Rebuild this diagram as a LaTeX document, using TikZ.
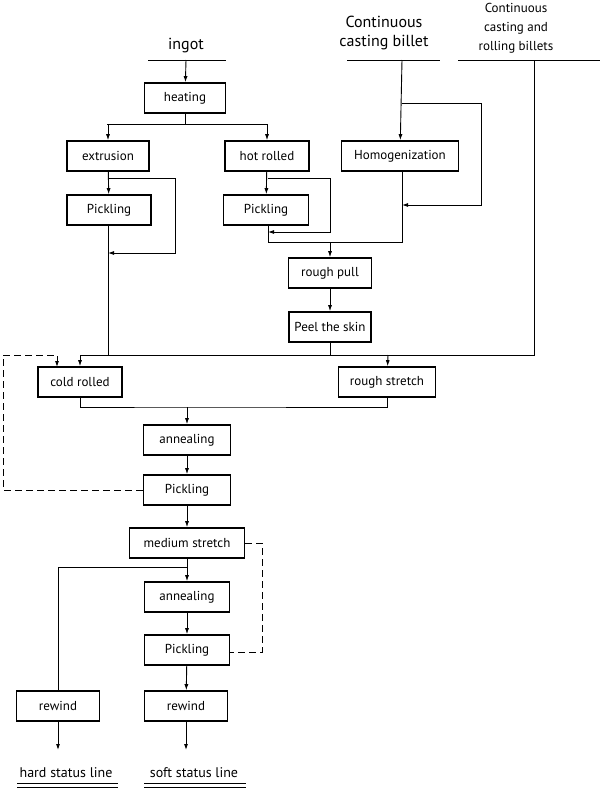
\documentclass[tikz,border=0pt]{standalone}
\usepackage{fontspec}
\setmainfont{PT Sans}
\usetikzlibrary{arrows.meta}
\begin{document}
\begin{tikzpicture}[x=1pt,y=-1pt,
 box/.style={draw,line width=1.6pt,minimum height=30pt,inner sep=2pt,font=\fontsize{13}{14}\selectfont},
 ln/.style={line width=0.9pt},
 ar/.style={ln,-{Latex[length=6pt,width=4pt]}},
 dsh/.style={ln,dash pattern=on 7pt off 4pt},
 lab/.style={font=\fontsize{16}{17}\selectfont,align=center}]
\useasboundingbox (0,0) rectangle (600,790);
% titles
\node[lab] (ingot) at (186,46) {ingot};
\node[lab,align=center,font=\fontsize{16}{19}\selectfont] (ccb) at (384,33) {Continuous\\casting billet};
\node[align=center,font=\fontsize{13}{19}\selectfont] (crb) at (516,28) {Continuous\\casting and\\rolling billets};
\coordinate (i0) at (186,60); \draw[ln] (148,60) -- (226,60);
\coordinate (c0) at (402,60); \draw[ln] (347,60) -- (440,60);
\coordinate (r0) at (534,60); \draw[ln] (458,60) -- (600,60);
% boxes
\node[box,minimum width=81pt] (heat) at (185,98) {heating};
\node[box,minimum width=82pt] (ext) at (108,156) {extrusion};
\node[box,minimum width=84pt] (hot) at (267,156) {hot rolled};
\node[box,minimum width=117pt] (hom) at (400,156) {Homogenization};
\node[box,minimum width=84pt] (pk1) at (109,210) {Pickling};
\node[box,minimum width=85pt] (pk2) at (266,210) {Pickling};
\node[box,minimum width=83pt] (rp) at (330,273) {rough pull};
\node[box,minimum width=82pt] (peel) at (330,327) {Peel the skin};
\node[box,minimum width=84pt] (cold) at (80,382) {cold rolled};
\node[box,minimum width=97pt] (rs) at (387,382) {rough stretch};
\node[box,minimum width=87pt] (an1) at (187,440) {annealing};
\node[box,minimum width=87pt] (pk3) at (187,490) {Pickling};
\node[box,minimum width=115pt] (ms) at (187,543) {medium stretch};
\node[box,minimum width=85pt] (an2) at (187,597) {annealing};
\node[box,minimum width=85pt] (pk4) at (187,650) {Pickling};
\node[box,minimum width=83pt] (rw1) at (58,706) {rewind};
\node[box,minimum width=83pt] (rw2) at (186,706) {rewind};
\node[font=\fontsize{14}{15}\selectfont] (hard) at (66,773) {hard status line};
\node[font=\fontsize{14}{15}\selectfont] (soft) at (194,773) {soft status line};
\draw[ln] (17,783) -- (118,783) (17,787) -- (118,787);
\draw[ln] (144,783) -- (246,783) (144,787) -- (246,787);
% connectors
\draw[ar] (i0) -- (heat);
\draw[ln] (heat.south) -- (185,124);
\draw[ar] (107,124) -| (ext.north);
\draw[ar] (107,124) -| (hot.north);
\draw[ar] (ext) -- (pk1);
\draw[ar] (108,178) -| (175,253) -- (108,253);
\draw[ar] (hot) -- (pk2);
\draw[ar] (268,178) -| (330,232) -- (268,232);
\draw[ar] (c0) -- (hom);
\draw[ar] (402,103) -| (481,205) -- (402,205);
\draw[ln] (pk2.south) ++(2,0) |- (402,242) -- (hom.south-|402,0);
\draw[ar] (330,242) -- (rp);
\draw[ar] (rp) -- (peel);
\draw[ln] (pk1.south) ++(-1,0) -- (108,355);
\draw[ln] (peel) -- (330,355);
\draw[ln] (80,355) -- (534,355) -- (r0);
\draw[ar] (80,355) -- (cold);
\draw[ar] (388,355) -- (rs);
\draw[dsh,-{Latex[length=6pt,width=4pt]}] (pk3.west) -| (3,355) -| (57,367);
\draw[ln] (cold.south) |- (187,407) -| (rs.south);
\draw[ar] (187,407) -- (an1);
\draw[ar] (an1) -- (pk3);
\draw[ar] (pk3) -- (ms);
\draw[ar] (ms) -- (an2);
\draw[ar] (an2) -- (pk4);
\draw[ar] (pk4) -- (rw2);
\draw[ln] (187,567) -| (rw1.north);
\draw[dsh] (ms.east) -| (262,652) -- (pk4.east|-0,652);
\draw[ar] (rw1) -- (58,750);
\draw[ar] (rw2) -- (186,750);
\end{tikzpicture}
\end{document}
